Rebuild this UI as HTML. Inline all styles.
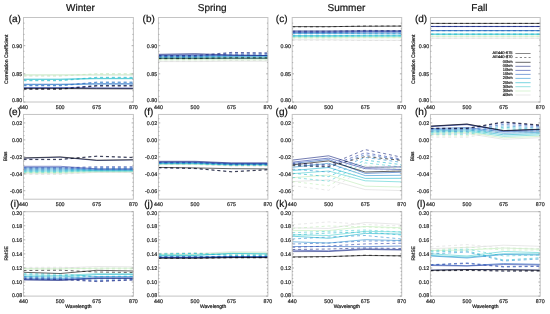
<!DOCTYPE html>
<html><head><meta charset="utf-8"><style>
html,body{margin:0;padding:0;background:#fff;}
body{width:550px;height:314px;overflow:hidden;font-family:"Liberation Sans",sans-serif;}
svg{display:block;will-change:transform;text-rendering:geometricPrecision;filter:blur(0.35px);}
</style></head><body>
<svg width="550" height="314" viewBox="0 0 550 314">
<rect width="550" height="314" fill="#fff"/>
<g fill="none" stroke-width="0.62" stroke-linejoin="round">
<polyline points="23.5,75.1 60.13,75.1 96.77,75.1 133.4,75.1" stroke="#dadada"/>
<polyline points="23.5,76.1 60.13,76.1 96.77,74 133.4,74" stroke="#dadada" stroke-dasharray="3,2.9"/>
<polyline points="23.5,74.8 60.13,74.8 96.77,74.8 133.4,74.8" stroke="#c0ecb8"/>
<polyline points="23.5,75.8 60.13,75.8 96.77,73.7 133.4,73.7" stroke="#c0ecb8" stroke-dasharray="3,2.9"/>
<polyline points="23.5,79.5 60.13,79.5 96.77,78.8 133.4,78.8" stroke="#50d0d0"/>
<polyline points="23.5,80.8 60.13,80.8 96.77,77.7 133.4,77.7" stroke="#50d0d0" stroke-dasharray="3,2.9"/>
<polyline points="23.5,79.1 60.13,79.1 96.77,78.4 133.4,78.4" stroke="#20b8cc"/>
<polyline points="23.5,80.4 60.13,80.4 96.77,77.3 133.4,77.3" stroke="#20b8cc" stroke-dasharray="3,2.9"/>
<polyline points="23.5,84.6 60.13,84.6 96.77,84.1 133.4,84.1" stroke="#2a90d0"/>
<polyline points="23.5,85.9 60.13,85.9 96.77,82.4 133.4,82.4" stroke="#2a90d0" stroke-dasharray="3,2.9"/>
<polyline points="23.5,84.2 60.13,84.2 96.77,83.7 133.4,83.7" stroke="#2a64c0"/>
<polyline points="23.5,85.5 60.13,85.5 96.77,82.1 133.4,82.1" stroke="#2a64c0" stroke-dasharray="3,2.9"/>
<polyline points="23.5,87.6 60.13,87.6 96.77,87.9 133.4,88" stroke="#2840a8"/>
<polyline points="23.5,88.5 60.13,88.5 96.77,85.4 133.4,85.4" stroke="#2840a8" stroke-dasharray="3,2.9"/>
<polyline points="23.5,88 60.13,88 96.77,88.3 133.4,88.5" stroke="#1c2a80"/>
<polyline points="23.5,88.9 60.13,88.9 96.77,85.7 133.4,85.7" stroke="#1c2a80" stroke-dasharray="3,2.9"/>
<polyline points="23.5,88.6 60.13,88.6 96.77,88.8 133.4,88.9" stroke="#000000"/>
<polyline points="23.5,89.3 60.13,89.3 96.77,86 133.4,86" stroke="#000000" stroke-dasharray="3,2.9"/>
</g>
<rect x="23.5" y="17.5" width="109.9" height="84.5" fill="none" stroke="#c4c4c4" stroke-width="1"/>
<path d="M23.5 102h1.8M133.4 102h-1.8M23.5 73.83h1.8M133.4 73.83h-1.8M23.5 45.67h1.8M133.4 45.67h-1.8M23.5 96.37h1M133.4 96.37h-1M23.5 90.73h1M133.4 90.73h-1M23.5 85.1h1M133.4 85.1h-1M23.5 79.47h1M133.4 79.47h-1M23.5 68.2h1M133.4 68.2h-1M23.5 62.57h1M133.4 62.57h-1M23.5 56.93h1M133.4 56.93h-1M23.5 51.3h1M133.4 51.3h-1M23.5 40.03h1M133.4 40.03h-1M23.5 34.4h1M133.4 34.4h-1M23.5 28.77h1M133.4 28.77h-1M23.5 23.13h1M133.4 23.13h-1" stroke="#999" stroke-width="0.8" fill="none"/>
<g font-family='"Liberation Sans", sans-serif' font-size="5.3" fill="#222" stroke="#222" stroke-width="0.18">
<text x="22.2" y="102.4" text-anchor="end">0.80</text>
<text x="22.2" y="75.73" text-anchor="end">0.85</text>
<text x="22.2" y="47.57" text-anchor="end">0.90</text>
<text x="23.5" y="108.9" text-anchor="middle">440</text>
<text x="60.13" y="108.9" text-anchor="middle">500</text>
<text x="96.77" y="108.9" text-anchor="middle">675</text>
<text x="133.4" y="108.9" text-anchor="middle">870</text>
</g>
<text x="14.8" y="21.6" font-family='"Liberation Sans", sans-serif' font-size="10" fill="#111" stroke="#111" stroke-width="0.2" text-anchor="middle">(a)</text>
<text transform="translate(8.3,59.25) rotate(-90)" font-family='"Liberation Sans", sans-serif' font-size="5" fill="#222" stroke="#222" stroke-width="0.22" text-anchor="middle">Correlation Coefficient</text>
<text x="80.5" y="11.3" font-family='"Liberation Sans", sans-serif' font-size="10" fill="#111" stroke="#111" stroke-width="0.2" text-anchor="middle">Winter</text>
<g fill="none" stroke-width="0.62" stroke-linejoin="round">
<polyline points="158.45,61.6 194.93,61.6 231.42,61.3 267.9,61.3" stroke="#dadada"/>
<polyline points="158.45,61.2 194.93,61.2 231.42,60.5 267.9,60.5" stroke="#dadada" stroke-dasharray="3,2.9"/>
<polyline points="158.45,59.8 194.93,59.8 231.42,59.8 267.9,59.8" stroke="#c0ecb8"/>
<polyline points="158.45,59.6 194.93,59.6 231.42,58.75 267.9,58.75" stroke="#c0ecb8" stroke-dasharray="3,2.9"/>
<polyline points="158.45,58.45 194.93,58.45 231.42,58.45 267.9,58.45" stroke="#50d0d0"/>
<polyline points="158.45,58 194.93,58 231.42,57 267.9,57" stroke="#50d0d0" stroke-dasharray="3,2.9"/>
<polyline points="158.45,57.1 194.93,57.1 231.42,57.1 267.9,57.1" stroke="#20b8cc"/>
<polyline points="158.45,57.5 194.93,57.5 231.42,56 267.9,56" stroke="#20b8cc" stroke-dasharray="3,2.9"/>
<polyline points="158.45,56.3 194.93,56.3 231.42,56.3 267.9,56.3" stroke="#2a90d0"/>
<polyline points="158.45,57 194.93,57 231.42,55 267.9,55" stroke="#2a90d0" stroke-dasharray="3,2.9"/>
<polyline points="158.45,55.5 194.93,55.5 231.42,55.5 267.9,55.5" stroke="#2a64c0"/>
<polyline points="158.45,56.5 194.93,56.5 231.42,54 267.9,54.15" stroke="#2a64c0" stroke-dasharray="3,2.9"/>
<polyline points="158.45,54.9 194.93,54.55 231.42,55.25 267.9,55.5" stroke="#2840a8"/>
<polyline points="158.45,56 194.93,56 231.42,53 267.9,53.3" stroke="#2840a8" stroke-dasharray="3,2.9"/>
<polyline points="158.45,54.3 194.93,53.6 231.42,55 267.9,55.5" stroke="#1c2a80"/>
<polyline points="158.45,55.5 194.93,55.5 231.42,52.4 267.9,52.9" stroke="#1c2a80" stroke-dasharray="3,2.9"/>
<polyline points="158.45,58.2 194.93,58.2 231.42,58.2 267.9,58.2" stroke="#000000"/>
<polyline points="158.45,58.6 194.93,58.6 231.42,57.8 267.9,57.8" stroke="#000000" stroke-dasharray="3,2.9"/>
</g>
<rect x="158.45" y="17.5" width="109.45" height="84.5" fill="none" stroke="#c4c4c4" stroke-width="1"/>
<path d="M158.45 102h1.8M267.9 102h-1.8M158.45 73.83h1.8M267.9 73.83h-1.8M158.45 45.67h1.8M267.9 45.67h-1.8M158.45 96.37h1M267.9 96.37h-1M158.45 90.73h1M267.9 90.73h-1M158.45 85.1h1M267.9 85.1h-1M158.45 79.47h1M267.9 79.47h-1M158.45 68.2h1M267.9 68.2h-1M158.45 62.57h1M267.9 62.57h-1M158.45 56.93h1M267.9 56.93h-1M158.45 51.3h1M267.9 51.3h-1M158.45 40.03h1M267.9 40.03h-1M158.45 34.4h1M267.9 34.4h-1M158.45 28.77h1M267.9 28.77h-1M158.45 23.13h1M267.9 23.13h-1" stroke="#999" stroke-width="0.8" fill="none"/>
<g font-family='"Liberation Sans", sans-serif' font-size="5.3" fill="#222" stroke="#222" stroke-width="0.18">
<text x="157.15" y="102.4" text-anchor="end">0.80</text>
<text x="157.15" y="75.73" text-anchor="end">0.85</text>
<text x="157.15" y="47.57" text-anchor="end">0.90</text>
<text x="158.45" y="108.9" text-anchor="middle">440</text>
<text x="194.93" y="108.9" text-anchor="middle">500</text>
<text x="231.42" y="108.9" text-anchor="middle">675</text>
<text x="267.9" y="108.9" text-anchor="middle">870</text>
</g>
<text x="148.7" y="21.6" font-family='"Liberation Sans", sans-serif' font-size="10" fill="#111" stroke="#111" stroke-width="0.2" text-anchor="middle">(b)</text>
<text x="212.2" y="11.3" font-family='"Liberation Sans", sans-serif' font-size="10" fill="#111" stroke="#111" stroke-width="0.2" text-anchor="middle">Spring</text>
<g fill="none" stroke-width="0.62" stroke-linejoin="round">
<polyline points="292.2,39.8 328.7,39.8 365.2,40.2 401.7,40.3" stroke="#dadada"/>
<polyline points="292.2,40.2 328.7,40.2 365.2,40.5 401.7,40.5" stroke="#dadada" stroke-dasharray="3,2.9"/>
<polyline points="292.2,37.7 328.7,37.7 365.2,37.7 401.7,37.7" stroke="#c0ecb8"/>
<polyline points="292.2,38 328.7,38 365.2,37.7 401.7,37.7" stroke="#c0ecb8" stroke-dasharray="3,2.9"/>
<polyline points="292.2,36.5 328.7,36.5 365.2,36.4 401.7,36.4" stroke="#50d0d0"/>
<polyline points="292.2,36.8 328.7,36.8 365.2,36.2 401.7,36.2" stroke="#50d0d0" stroke-dasharray="3,2.9"/>
<polyline points="292.2,35.5 328.7,35.5 365.2,35.4 401.7,35.4" stroke="#20b8cc"/>
<polyline points="292.2,35.8 328.7,35.8 365.2,35.2 401.7,35.2" stroke="#20b8cc" stroke-dasharray="3,2.9"/>
<polyline points="292.2,33.5 328.7,33.5 365.2,33.6 401.7,33.8" stroke="#2a90d0"/>
<polyline points="292.2,33.8 328.7,33.8 365.2,33.3 401.7,33.5" stroke="#2a90d0" stroke-dasharray="3,2.9"/>
<polyline points="292.2,32.4 328.7,32.4 365.2,32.2 401.7,32.2" stroke="#2a64c0"/>
<polyline points="292.2,32.7 328.7,32.7 365.2,31.9 401.7,31.9" stroke="#2a64c0" stroke-dasharray="3,2.9"/>
<polyline points="292.2,31.8 328.7,31.8 365.2,31.6 401.7,31.6" stroke="#2840a8"/>
<polyline points="292.2,32 328.7,32 365.2,31.3 401.7,31.4" stroke="#2840a8" stroke-dasharray="3,2.9"/>
<polyline points="292.2,30.9 328.7,30.9 365.2,30.7 401.7,30.7" stroke="#1c2a80"/>
<polyline points="292.2,31.2 328.7,31.2 365.2,30.4 401.7,30.6" stroke="#1c2a80" stroke-dasharray="3,2.9"/>
<polyline points="292.2,26.6 328.7,26.6 365.2,26.3 401.7,26.1" stroke="#000000"/>
<polyline points="292.2,26.8 328.7,26.8 365.2,26 401.7,26" stroke="#000000" stroke-dasharray="3,2.9"/>
</g>
<rect x="292.2" y="17.5" width="109.5" height="84.5" fill="none" stroke="#c4c4c4" stroke-width="1"/>
<path d="M292.2 102h1.8M401.7 102h-1.8M292.2 73.83h1.8M401.7 73.83h-1.8M292.2 45.67h1.8M401.7 45.67h-1.8M292.2 96.37h1M401.7 96.37h-1M292.2 90.73h1M401.7 90.73h-1M292.2 85.1h1M401.7 85.1h-1M292.2 79.47h1M401.7 79.47h-1M292.2 68.2h1M401.7 68.2h-1M292.2 62.57h1M401.7 62.57h-1M292.2 56.93h1M401.7 56.93h-1M292.2 51.3h1M401.7 51.3h-1M292.2 40.03h1M401.7 40.03h-1M292.2 34.4h1M401.7 34.4h-1M292.2 28.77h1M401.7 28.77h-1M292.2 23.13h1M401.7 23.13h-1" stroke="#999" stroke-width="0.8" fill="none"/>
<g font-family='"Liberation Sans", sans-serif' font-size="5.3" fill="#222" stroke="#222" stroke-width="0.18">
<text x="290.9" y="102.4" text-anchor="end">0.80</text>
<text x="290.9" y="75.73" text-anchor="end">0.85</text>
<text x="290.9" y="47.57" text-anchor="end">0.90</text>
<text x="292.2" y="108.9" text-anchor="middle">440</text>
<text x="328.7" y="108.9" text-anchor="middle">500</text>
<text x="365.2" y="108.9" text-anchor="middle">675</text>
<text x="401.7" y="108.9" text-anchor="middle">870</text>
</g>
<text x="281.7" y="21.6" font-family='"Liberation Sans", sans-serif' font-size="10" fill="#111" stroke="#111" stroke-width="0.2" text-anchor="middle">(c)</text>
<text x="346.4" y="11.3" font-family='"Liberation Sans", sans-serif' font-size="10" fill="#111" stroke="#111" stroke-width="0.2" text-anchor="middle">Summer</text>
<g fill="none" stroke-width="0.62" stroke-linejoin="round">
<polyline points="430.45,38.2 467.03,38.2 503.62,38.2 540.2,38.2" stroke="#dadada"/>
<polyline points="430.45,38.2 467.03,38.2 503.62,38.2 540.2,38.2" stroke="#dadada" stroke-dasharray="3,2.9"/>
<polyline points="430.45,36.2 467.03,36.2 503.62,36.2 540.2,36.2" stroke="#c0ecb8"/>
<polyline points="430.45,36.2 467.03,36.2 503.62,36.2 540.2,36.2" stroke="#c0ecb8" stroke-dasharray="3,2.9"/>
<polyline points="430.45,34.3 467.03,34.3 503.62,34.3 540.2,34.3" stroke="#50d0d0"/>
<polyline points="430.45,34.3 467.03,34.3 503.62,34.3 540.2,34.3" stroke="#50d0d0" stroke-dasharray="3,2.9"/>
<polyline points="430.45,34.1 467.03,34.1 503.62,34.1 540.2,34.1" stroke="#20b8cc"/>
<polyline points="430.45,34.1 467.03,34.1 503.62,34.1 540.2,34.1" stroke="#20b8cc" stroke-dasharray="3,2.9"/>
<polyline points="430.45,30.7 467.03,30.7 503.62,30.7 540.2,30.7" stroke="#2a90d0"/>
<polyline points="430.45,30.7 467.03,30.7 503.62,30.7 540.2,30.7" stroke="#2a90d0" stroke-dasharray="3,2.9"/>
<polyline points="430.45,30.6 467.03,30.6 503.62,30.6 540.2,30.6" stroke="#2a64c0"/>
<polyline points="430.45,30.6 467.03,30.6 503.62,30.6 540.2,30.6" stroke="#2a64c0" stroke-dasharray="3,2.9"/>
<polyline points="430.45,26.55 467.03,26.55 503.62,26.55 540.2,26.55" stroke="#2840a8"/>
<polyline points="430.45,26.55 467.03,26.55 503.62,26.55 540.2,26.55" stroke="#2840a8" stroke-dasharray="3,2.9"/>
<polyline points="430.45,26.45 467.03,26.45 503.62,26.45 540.2,26.45" stroke="#1c2a80"/>
<polyline points="430.45,26.45 467.03,26.45 503.62,26.45 540.2,26.45" stroke="#1c2a80" stroke-dasharray="3,2.9"/>
<polyline points="430.45,23.4 467.03,23.4 503.62,23.4 540.2,23.4" stroke="#000000"/>
<polyline points="430.45,23.4 467.03,23.4 503.62,23.4 540.2,23.4" stroke="#000000" stroke-dasharray="3,2.9"/>
</g>
<rect x="430.45" y="17.5" width="109.75" height="84.5" fill="none" stroke="#c4c4c4" stroke-width="1"/>
<path d="M430.45 102h1.8M540.2 102h-1.8M430.45 73.83h1.8M540.2 73.83h-1.8M430.45 45.67h1.8M540.2 45.67h-1.8M430.45 96.37h1M540.2 96.37h-1M430.45 90.73h1M540.2 90.73h-1M430.45 85.1h1M540.2 85.1h-1M430.45 79.47h1M540.2 79.47h-1M430.45 68.2h1M540.2 68.2h-1M430.45 62.57h1M540.2 62.57h-1M430.45 56.93h1M540.2 56.93h-1M430.45 51.3h1M540.2 51.3h-1M430.45 40.03h1M540.2 40.03h-1M430.45 34.4h1M540.2 34.4h-1M430.45 28.77h1M540.2 28.77h-1M430.45 23.13h1M540.2 23.13h-1" stroke="#999" stroke-width="0.8" fill="none"/>
<g font-family='"Liberation Sans", sans-serif' font-size="5.3" fill="#222" stroke="#222" stroke-width="0.18">
<text x="429.15" y="102.4" text-anchor="end">0.80</text>
<text x="429.15" y="75.73" text-anchor="end">0.85</text>
<text x="429.15" y="47.57" text-anchor="end">0.90</text>
<text x="430.45" y="108.9" text-anchor="middle">440</text>
<text x="467.03" y="108.9" text-anchor="middle">500</text>
<text x="503.62" y="108.9" text-anchor="middle">675</text>
<text x="540.2" y="108.9" text-anchor="middle">870</text>
</g>
<text x="421.1" y="21.6" font-family='"Liberation Sans", sans-serif' font-size="10" fill="#111" stroke="#111" stroke-width="0.2" text-anchor="middle">(d)</text>
<text transform="translate(415.25,59.25) rotate(-90)" font-family='"Liberation Sans", sans-serif' font-size="5" fill="#222" stroke="#222" stroke-width="0.22" text-anchor="middle">Correlation Coefficient</text>
<text x="479.4" y="11.3" font-family='"Liberation Sans", sans-serif' font-size="10" fill="#111" stroke="#111" stroke-width="0.2" text-anchor="middle">Fall</text>
<g fill="none" stroke-width="0.62" stroke-linejoin="round">
<polyline points="23.5,173.7 60.13,173.7 96.77,172.4 133.4,172.4" stroke="#dadada"/>
<polyline points="23.5,174.5 60.13,174.5 96.77,172 133.4,172" stroke="#dadada" stroke-dasharray="3,2.9"/>
<polyline points="23.5,172.47 60.13,172.47 96.77,171.8 133.4,171.8" stroke="#c0ecb8"/>
<polyline points="23.5,173.4 60.13,173.4 96.77,171.12 133.4,171.12" stroke="#c0ecb8" stroke-dasharray="3,2.9"/>
<polyline points="23.5,171.23 60.13,171.23 96.77,171.2 133.4,171.2" stroke="#50d0d0"/>
<polyline points="23.5,172.3 60.13,172.3 96.77,170.23 133.4,170.23" stroke="#50d0d0" stroke-dasharray="3,2.9"/>
<polyline points="23.5,170 60.13,170 96.77,170.6 133.4,170.6" stroke="#20b8cc"/>
<polyline points="23.5,171.2 60.13,171.2 96.77,169.35 133.4,169.35" stroke="#20b8cc" stroke-dasharray="3,2.9"/>
<polyline points="23.5,168.77 60.13,168.77 96.77,170 133.4,170" stroke="#2a90d0"/>
<polyline points="23.5,170.1 60.13,170.1 96.77,168.47 133.4,168.47" stroke="#2a90d0" stroke-dasharray="3,2.9"/>
<polyline points="23.5,167.53 60.13,167.53 96.77,169.4 133.4,169.4" stroke="#2a64c0"/>
<polyline points="23.5,169 60.13,169 96.77,167.58 133.4,167.58" stroke="#2a64c0" stroke-dasharray="3,2.9"/>
<polyline points="23.5,166.3 60.13,166.3 96.77,168.8 133.4,168.8" stroke="#2840a8"/>
<polyline points="23.5,167.9 60.13,167.9 96.77,166.7 133.4,166.7" stroke="#2840a8" stroke-dasharray="3,2.9"/>
<polyline points="23.5,158.2 60.13,157.2 96.77,160.5 133.4,160" stroke="#1c2a80"/>
<polyline points="23.5,159.6 60.13,159.6 96.77,156.4 133.4,157.7" stroke="#1c2a80" stroke-dasharray="3,2.9"/>
<polyline points="23.5,157.9 60.13,156.9 96.77,160.2 133.4,159.7" stroke="#000000"/>
<polyline points="23.5,159.3 60.13,159.3 96.77,156.1 133.4,157.4" stroke="#000000" stroke-dasharray="3,2.9"/>
</g>
<rect x="23.5" y="114.45" width="109.9" height="84.75" fill="none" stroke="#c4c4c4" stroke-width="1"/>
<path d="M23.5 190.72h1.8M133.4 190.72h-1.8M23.5 173.77h1.8M133.4 173.77h-1.8M23.5 156.82h1.8M133.4 156.82h-1.8M23.5 139.88h1.8M133.4 139.88h-1.8M23.5 122.92h1.8M133.4 122.92h-1.8M23.5 194.96h1M133.4 194.96h-1M23.5 186.49h1M133.4 186.49h-1M23.5 182.25h1M133.4 182.25h-1M23.5 178.01h1M133.4 178.01h-1M23.5 169.54h1M133.4 169.54h-1M23.5 165.3h1M133.4 165.3h-1M23.5 161.06h1M133.4 161.06h-1M23.5 152.59h1M133.4 152.59h-1M23.5 148.35h1M133.4 148.35h-1M23.5 144.11h1M133.4 144.11h-1M23.5 135.64h1M133.4 135.64h-1M23.5 131.4h1M133.4 131.4h-1M23.5 127.16h1M133.4 127.16h-1M23.5 118.69h1M133.4 118.69h-1" stroke="#999" stroke-width="0.8" fill="none"/>
<g font-family='"Liberation Sans", sans-serif' font-size="5.3" fill="#222" stroke="#222" stroke-width="0.18">
<text x="22.2" y="192.62" text-anchor="end">-0.06</text>
<text x="22.2" y="175.67" text-anchor="end">-0.04</text>
<text x="22.2" y="158.72" text-anchor="end">-0.02</text>
<text x="22.2" y="141.78" text-anchor="end">0.00</text>
<text x="22.2" y="124.83" text-anchor="end">0.02</text>
<text x="23.5" y="206.1" text-anchor="middle">440</text>
<text x="60.13" y="206.1" text-anchor="middle">500</text>
<text x="96.77" y="206.1" text-anchor="middle">675</text>
<text x="133.4" y="206.1" text-anchor="middle">870</text>
</g>
<text x="14.8" y="114.5" font-family='"Liberation Sans", sans-serif' font-size="10" fill="#111" stroke="#111" stroke-width="0.2" text-anchor="middle">(e)</text>
<text transform="translate(6.6,156.32) rotate(-90)" font-family='"Liberation Sans", sans-serif' font-size="5" fill="#222" stroke="#222" stroke-width="0.22" text-anchor="middle">Bias</text>
<g fill="none" stroke-width="0.62" stroke-linejoin="round">
<polyline points="158.45,164.4 194.93,164.4 231.42,165.4 267.9,165.4" stroke="#dadada"/>
<polyline points="158.45,164.6 194.93,164.6 231.42,166 267.9,166" stroke="#dadada" stroke-dasharray="3,2.9"/>
<polyline points="158.45,164.05 194.93,164.05 231.42,165.05 267.9,165.05" stroke="#c0ecb8"/>
<polyline points="158.45,164.25 194.93,164.25 231.42,165.65 267.9,165.65" stroke="#c0ecb8" stroke-dasharray="3,2.9"/>
<polyline points="158.45,163.7 194.93,163.7 231.42,164.7 267.9,164.7" stroke="#50d0d0"/>
<polyline points="158.45,163.9 194.93,163.9 231.42,165.3 267.9,165.3" stroke="#50d0d0" stroke-dasharray="3,2.9"/>
<polyline points="158.45,163.3 194.93,163.3 231.42,164.4 267.9,164.4" stroke="#20b8cc"/>
<polyline points="158.45,163.5 194.93,163.5 231.42,165 267.9,165" stroke="#20b8cc" stroke-dasharray="3,2.9"/>
<polyline points="158.45,162.83 194.93,162.83 231.42,164.03 267.9,164.03" stroke="#2a90d0"/>
<polyline points="158.45,163.13 194.93,163.13 231.42,164.67 267.9,164.67" stroke="#2a90d0" stroke-dasharray="3,2.9"/>
<polyline points="158.45,162.37 194.93,162.37 231.42,163.67 267.9,163.67" stroke="#2a64c0"/>
<polyline points="158.45,162.77 194.93,162.77 231.42,164.33 267.9,164.33" stroke="#2a64c0" stroke-dasharray="3,2.9"/>
<polyline points="158.45,161.9 194.93,161.9 231.42,163.3 267.9,163.3" stroke="#2840a8"/>
<polyline points="158.45,162.4 194.93,162.4 231.42,164 267.9,164" stroke="#2840a8" stroke-dasharray="3,2.9"/>
<polyline points="158.45,161.3 194.93,161.3 231.42,162.9 267.9,162.9" stroke="#1c2a80"/>
<polyline points="158.45,167.9 194.93,168.6 231.42,171.6 267.9,169.6" stroke="#1c2a80" stroke-dasharray="3,2.9"/>
<polyline points="158.45,167.4 194.93,167.9 231.42,168.7 267.9,168.9" stroke="#000000"/>
<polyline points="158.45,167.6 194.93,168.3 231.42,171.9 267.9,169.8" stroke="#000000" stroke-dasharray="3,2.9"/>
</g>
<rect x="158.45" y="114.45" width="109.45" height="84.75" fill="none" stroke="#c4c4c4" stroke-width="1"/>
<path d="M158.45 190.72h1.8M267.9 190.72h-1.8M158.45 173.77h1.8M267.9 173.77h-1.8M158.45 156.82h1.8M267.9 156.82h-1.8M158.45 139.88h1.8M267.9 139.88h-1.8M158.45 122.92h1.8M267.9 122.92h-1.8M158.45 194.96h1M267.9 194.96h-1M158.45 186.49h1M267.9 186.49h-1M158.45 182.25h1M267.9 182.25h-1M158.45 178.01h1M267.9 178.01h-1M158.45 169.54h1M267.9 169.54h-1M158.45 165.3h1M267.9 165.3h-1M158.45 161.06h1M267.9 161.06h-1M158.45 152.59h1M267.9 152.59h-1M158.45 148.35h1M267.9 148.35h-1M158.45 144.11h1M267.9 144.11h-1M158.45 135.64h1M267.9 135.64h-1M158.45 131.4h1M267.9 131.4h-1M158.45 127.16h1M267.9 127.16h-1M158.45 118.69h1M267.9 118.69h-1" stroke="#999" stroke-width="0.8" fill="none"/>
<g font-family='"Liberation Sans", sans-serif' font-size="5.3" fill="#222" stroke="#222" stroke-width="0.18">
<text x="157.15" y="192.62" text-anchor="end">-0.06</text>
<text x="157.15" y="175.67" text-anchor="end">-0.04</text>
<text x="157.15" y="158.72" text-anchor="end">-0.02</text>
<text x="157.15" y="141.78" text-anchor="end">0.00</text>
<text x="157.15" y="124.83" text-anchor="end">0.02</text>
<text x="158.45" y="206.1" text-anchor="middle">440</text>
<text x="194.93" y="206.1" text-anchor="middle">500</text>
<text x="231.42" y="206.1" text-anchor="middle">675</text>
<text x="267.9" y="206.1" text-anchor="middle">870</text>
</g>
<text x="148.7" y="114.5" font-family='"Liberation Sans", sans-serif' font-size="10" fill="#111" stroke="#111" stroke-width="0.2" text-anchor="middle">(f)</text>
<g fill="none" stroke-width="0.62" stroke-linejoin="round">
<polyline points="292.2,181.6 328.7,179.8 365.2,189.6 401.7,190.6" stroke="#dadada"/>
<polyline points="292.2,185.6 328.7,190.3 365.2,168.3 401.7,171.8" stroke="#dadada" stroke-dasharray="3,2.9"/>
<polyline points="292.2,177.7 328.7,175 365.2,186.2 401.7,187" stroke="#c0ecb8"/>
<polyline points="292.2,181.48 328.7,185.74 365.2,165.58 401.7,169.44" stroke="#c0ecb8" stroke-dasharray="3,2.9"/>
<polyline points="292.2,173.7 328.7,171 365.2,180.8 401.7,181.9" stroke="#50d0d0"/>
<polyline points="292.2,177.36 328.7,181.18 365.2,162.86 401.7,167.08" stroke="#50d0d0" stroke-dasharray="3,2.9"/>
<polyline points="292.2,170.5 328.7,167.5 365.2,178.4 401.7,178.3" stroke="#20b8cc"/>
<polyline points="292.2,173.24 328.7,176.62 365.2,160.14 401.7,164.72" stroke="#20b8cc" stroke-dasharray="3,2.9"/>
<polyline points="292.2,167.3 328.7,163.3 365.2,175.6 401.7,175.3" stroke="#2a90d0"/>
<polyline points="292.2,169.12 328.7,172.06 365.2,157.42 401.7,162.36" stroke="#2a90d0" stroke-dasharray="3,2.9"/>
<polyline points="292.2,163.5 328.7,159.5 365.2,173.4 401.7,172.2" stroke="#2a64c0"/>
<polyline points="292.2,165 328.7,167.5 365.2,154.7 401.7,160" stroke="#2a64c0" stroke-dasharray="3,2.9"/>
<polyline points="292.2,162.2 328.7,158.1 365.2,168.7 401.7,169.5" stroke="#2840a8"/>
<polyline points="292.2,164 328.7,166 365.2,152.8 401.7,159.1" stroke="#2840a8" stroke-dasharray="3,2.9"/>
<polyline points="292.2,160.1 328.7,155.8 365.2,167.3 401.7,166.9" stroke="#1c2a80"/>
<polyline points="292.2,163 328.7,164.7 365.2,149.6 401.7,157.2" stroke="#1c2a80" stroke-dasharray="3,2.9"/>
<polyline points="292.2,164.9 328.7,160.9 365.2,172 401.7,171" stroke="#000000"/>
<polyline points="292.2,165.7 328.7,166.5 365.2,156.6 401.7,160.4" stroke="#000000" stroke-dasharray="3,2.9"/>
</g>
<rect x="292.2" y="114.45" width="109.5" height="84.75" fill="none" stroke="#c4c4c4" stroke-width="1"/>
<path d="M292.2 190.72h1.8M401.7 190.72h-1.8M292.2 173.77h1.8M401.7 173.77h-1.8M292.2 156.82h1.8M401.7 156.82h-1.8M292.2 139.88h1.8M401.7 139.88h-1.8M292.2 122.92h1.8M401.7 122.92h-1.8M292.2 194.96h1M401.7 194.96h-1M292.2 186.49h1M401.7 186.49h-1M292.2 182.25h1M401.7 182.25h-1M292.2 178.01h1M401.7 178.01h-1M292.2 169.54h1M401.7 169.54h-1M292.2 165.3h1M401.7 165.3h-1M292.2 161.06h1M401.7 161.06h-1M292.2 152.59h1M401.7 152.59h-1M292.2 148.35h1M401.7 148.35h-1M292.2 144.11h1M401.7 144.11h-1M292.2 135.64h1M401.7 135.64h-1M292.2 131.4h1M401.7 131.4h-1M292.2 127.16h1M401.7 127.16h-1M292.2 118.69h1M401.7 118.69h-1" stroke="#999" stroke-width="0.8" fill="none"/>
<g font-family='"Liberation Sans", sans-serif' font-size="5.3" fill="#222" stroke="#222" stroke-width="0.18">
<text x="290.9" y="192.62" text-anchor="end">-0.06</text>
<text x="290.9" y="175.67" text-anchor="end">-0.04</text>
<text x="290.9" y="158.72" text-anchor="end">-0.02</text>
<text x="290.9" y="141.78" text-anchor="end">0.00</text>
<text x="290.9" y="124.83" text-anchor="end">0.02</text>
<text x="292.2" y="206.1" text-anchor="middle">440</text>
<text x="328.7" y="206.1" text-anchor="middle">500</text>
<text x="365.2" y="206.1" text-anchor="middle">675</text>
<text x="401.7" y="206.1" text-anchor="middle">870</text>
</g>
<text x="281.7" y="114.5" font-family='"Liberation Sans", sans-serif' font-size="10" fill="#111" stroke="#111" stroke-width="0.2" text-anchor="middle">(g)</text>
<g fill="none" stroke-width="0.62" stroke-linejoin="round">
<polyline points="430.45,134.5 467.03,133.5 503.62,139.3 540.2,137.7" stroke="#dadada"/>
<polyline points="430.45,137.2 467.03,137.2 503.62,131.5 540.2,133.5" stroke="#dadada" stroke-dasharray="3,2.9"/>
<polyline points="430.45,133.32 467.03,132.3 503.62,137.8 540.2,136.36" stroke="#c0ecb8"/>
<polyline points="430.45,135.76 467.03,135.76 503.62,130.08 540.2,132.16" stroke="#c0ecb8" stroke-dasharray="3,2.9"/>
<polyline points="430.45,132.14 467.03,131.1 503.62,136.3 540.2,135.02" stroke="#50d0d0"/>
<polyline points="430.45,134.32 467.03,134.32 503.62,128.66 540.2,130.82" stroke="#50d0d0" stroke-dasharray="3,2.9"/>
<polyline points="430.45,130.96 467.03,129.9 503.62,134.8 540.2,133.68" stroke="#20b8cc"/>
<polyline points="430.45,132.88 467.03,132.88 503.62,127.24 540.2,129.48" stroke="#20b8cc" stroke-dasharray="3,2.9"/>
<polyline points="430.45,129.78 467.03,128.7 503.62,133.3 540.2,132.34" stroke="#2a90d0"/>
<polyline points="430.45,131.44 467.03,131.44 503.62,125.82 540.2,128.14" stroke="#2a90d0" stroke-dasharray="3,2.9"/>
<polyline points="430.45,128.6 467.03,127.5 503.62,131.8 540.2,131" stroke="#2a64c0"/>
<polyline points="430.45,130 467.03,130 503.62,124.4 540.2,126.8" stroke="#2a64c0" stroke-dasharray="3,2.9"/>
<polyline points="430.45,126.6 467.03,124.6 503.62,131 540.2,129.7" stroke="#2840a8"/>
<polyline points="430.45,128.9 467.03,128.9 503.62,122.8 540.2,125.8" stroke="#2840a8" stroke-dasharray="3,2.9"/>
<polyline points="430.45,126.3 467.03,124.2 503.62,130.8 540.2,129.4" stroke="#1c2a80"/>
<polyline points="430.45,128.5 467.03,128.5 503.62,122.2 540.2,125.3" stroke="#1c2a80" stroke-dasharray="3,2.9"/>
<polyline points="430.45,126.1 467.03,124 503.62,130.6 540.2,129.2" stroke="#000000"/>
<polyline points="430.45,128.2 467.03,128.2 503.62,121.9 540.2,125" stroke="#000000" stroke-dasharray="3,2.9"/>
</g>
<rect x="430.45" y="114.45" width="109.75" height="84.75" fill="none" stroke="#c4c4c4" stroke-width="1"/>
<path d="M430.45 190.72h1.8M540.2 190.72h-1.8M430.45 173.77h1.8M540.2 173.77h-1.8M430.45 156.82h1.8M540.2 156.82h-1.8M430.45 139.88h1.8M540.2 139.88h-1.8M430.45 122.92h1.8M540.2 122.92h-1.8M430.45 194.96h1M540.2 194.96h-1M430.45 186.49h1M540.2 186.49h-1M430.45 182.25h1M540.2 182.25h-1M430.45 178.01h1M540.2 178.01h-1M430.45 169.54h1M540.2 169.54h-1M430.45 165.3h1M540.2 165.3h-1M430.45 161.06h1M540.2 161.06h-1M430.45 152.59h1M540.2 152.59h-1M430.45 148.35h1M540.2 148.35h-1M430.45 144.11h1M540.2 144.11h-1M430.45 135.64h1M540.2 135.64h-1M430.45 131.4h1M540.2 131.4h-1M430.45 127.16h1M540.2 127.16h-1M430.45 118.69h1M540.2 118.69h-1" stroke="#999" stroke-width="0.8" fill="none"/>
<g font-family='"Liberation Sans", sans-serif' font-size="5.3" fill="#222" stroke="#222" stroke-width="0.18">
<text x="429.15" y="192.62" text-anchor="end">-0.06</text>
<text x="429.15" y="175.67" text-anchor="end">-0.04</text>
<text x="429.15" y="158.72" text-anchor="end">-0.02</text>
<text x="429.15" y="141.78" text-anchor="end">0.00</text>
<text x="429.15" y="124.83" text-anchor="end">0.02</text>
<text x="430.45" y="206.1" text-anchor="middle">440</text>
<text x="467.03" y="206.1" text-anchor="middle">500</text>
<text x="503.62" y="206.1" text-anchor="middle">675</text>
<text x="540.2" y="206.1" text-anchor="middle">870</text>
</g>
<text x="421.1" y="114.5" font-family='"Liberation Sans", sans-serif' font-size="10" fill="#111" stroke="#111" stroke-width="0.2" text-anchor="middle">(h)</text>
<text transform="translate(413.55,156.32) rotate(-90)" font-family='"Liberation Sans", sans-serif' font-size="5" fill="#222" stroke="#222" stroke-width="0.22" text-anchor="middle">Bias</text>
<g fill="none" stroke-width="0.62" stroke-linejoin="round">
<polyline points="23.5,268.2 60.13,268 96.77,266.5 133.4,266.8" stroke="#dadada"/>
<polyline points="23.5,267.4 60.13,267.2 96.77,268 133.4,268" stroke="#dadada" stroke-dasharray="3,2.9"/>
<polyline points="23.5,269 60.13,269 96.77,268.2 133.4,268.2" stroke="#c0ecb8"/>
<polyline points="23.5,268.5 60.13,268.5 96.77,269 133.4,269" stroke="#c0ecb8" stroke-dasharray="3,2.9"/>
<polyline points="23.5,275 60.13,275.5 96.77,273.7 133.4,273.7" stroke="#50d0d0"/>
<polyline points="23.5,273.5 60.13,274 96.77,276.4 133.4,276" stroke="#50d0d0" stroke-dasharray="3,2.9"/>
<polyline points="23.5,276.5 60.13,277 96.77,274.5 133.4,274.5" stroke="#20b8cc"/>
<polyline points="23.5,274.8 60.13,275.3 96.77,277 133.4,276.5" stroke="#20b8cc" stroke-dasharray="3,2.9"/>
<polyline points="23.5,278 60.13,278.5 96.77,276.5 133.4,276.5" stroke="#2a90d0"/>
<polyline points="23.5,276.5 60.13,277 96.77,279 133.4,278.5" stroke="#2a90d0" stroke-dasharray="3,2.9"/>
<polyline points="23.5,279 60.13,279.5 96.77,277.9 133.4,277.9" stroke="#2a64c0"/>
<polyline points="23.5,277.4 60.13,278 96.77,280.5 133.4,279.5" stroke="#2a64c0" stroke-dasharray="3,2.9"/>
<polyline points="23.5,279.5 60.13,280 96.77,278 133.4,278" stroke="#2840a8"/>
<polyline points="23.5,278.5 60.13,279 96.77,281.2 133.4,279.8" stroke="#2840a8" stroke-dasharray="3,2.9"/>
<polyline points="23.5,280 60.13,280.5 96.77,278.5 133.4,278.5" stroke="#1c2a80"/>
<polyline points="23.5,279 60.13,279.5 96.77,281.6 133.4,280" stroke="#1c2a80" stroke-dasharray="3,2.9"/>
<polyline points="23.5,272.3 60.13,273.5 96.77,270.3 133.4,271" stroke="#000000"/>
<polyline points="23.5,270.5 60.13,270.2 96.77,272 133.4,272.5" stroke="#000000" stroke-dasharray="3,2.9"/>
</g>
<rect x="23.5" y="211.7" width="109.9" height="84.4" fill="none" stroke="#c4c4c4" stroke-width="1"/>
<path d="M23.5 296.1h1.8M133.4 296.1h-1.8M23.5 282.03h1.8M133.4 282.03h-1.8M23.5 267.97h1.8M133.4 267.97h-1.8M23.5 253.9h1.8M133.4 253.9h-1.8M23.5 239.83h1.8M133.4 239.83h-1.8M23.5 225.77h1.8M133.4 225.77h-1.8M23.5 211.7h1.8M133.4 211.7h-1.8M23.5 292.58h1M133.4 292.58h-1M23.5 289.07h1M133.4 289.07h-1M23.5 285.55h1M133.4 285.55h-1M23.5 278.52h1M133.4 278.52h-1M23.5 275h1M133.4 275h-1M23.5 271.48h1M133.4 271.48h-1M23.5 264.45h1M133.4 264.45h-1M23.5 260.93h1M133.4 260.93h-1M23.5 257.42h1M133.4 257.42h-1M23.5 250.38h1M133.4 250.38h-1M23.5 246.87h1M133.4 246.87h-1M23.5 243.35h1M133.4 243.35h-1M23.5 236.32h1M133.4 236.32h-1M23.5 232.8h1M133.4 232.8h-1M23.5 229.28h1M133.4 229.28h-1M23.5 222.25h1M133.4 222.25h-1M23.5 218.73h1M133.4 218.73h-1M23.5 215.22h1M133.4 215.22h-1" stroke="#999" stroke-width="0.8" fill="none"/>
<g font-family='"Liberation Sans", sans-serif' font-size="5.3" fill="#222" stroke="#222" stroke-width="0.18">
<text x="22.2" y="296.5" text-anchor="end">0.08</text>
<text x="22.2" y="283.93" text-anchor="end">0.10</text>
<text x="22.2" y="269.87" text-anchor="end">0.12</text>
<text x="22.2" y="255.8" text-anchor="end">0.14</text>
<text x="22.2" y="241.73" text-anchor="end">0.16</text>
<text x="22.2" y="227.67" text-anchor="end">0.18</text>
<text x="22.2" y="214.6" text-anchor="end">0.20</text>
<text x="23.5" y="303" text-anchor="middle">440</text>
<text x="60.13" y="303" text-anchor="middle">500</text>
<text x="96.77" y="303" text-anchor="middle">675</text>
<text x="133.4" y="303" text-anchor="middle">870</text>
</g>
<text x="14.8" y="206.5" font-family='"Liberation Sans", sans-serif' font-size="10" fill="#111" stroke="#111" stroke-width="0.2" text-anchor="middle">(i)</text>
<text transform="translate(8.3,253.4) rotate(-90)" font-family='"Liberation Sans", sans-serif' font-size="5" fill="#222" stroke="#222" stroke-width="0.22" text-anchor="middle">RMSE</text>
<text x="78.45" y="308.4" font-family='"Liberation Sans", sans-serif' font-size="5" fill="#222" stroke="#222" stroke-width="0.22" text-anchor="middle">Wavelength</text>
<g fill="none" stroke-width="0.62" stroke-linejoin="round">
<polyline points="158.45,253.8 194.93,253.8 231.42,251.7 267.9,252" stroke="#dadada"/>
<polyline points="158.45,253.2 194.93,252.7 231.42,254.2 267.9,254.2" stroke="#dadada" stroke-dasharray="3,2.9"/>
<polyline points="158.45,254.5 194.93,254.5 231.42,252.6 267.9,252.9" stroke="#c0ecb8"/>
<polyline points="158.45,253.5 194.93,253 231.42,254.6 267.9,254.6" stroke="#c0ecb8" stroke-dasharray="3,2.9"/>
<polyline points="158.45,255.2 194.93,255.2 231.42,253.4 267.9,253.8" stroke="#50d0d0"/>
<polyline points="158.45,254 194.93,253.3 231.42,255.2 267.9,255.2" stroke="#50d0d0" stroke-dasharray="3,2.9"/>
<polyline points="158.45,255.4 194.93,255.4 231.42,253.6 267.9,254" stroke="#20b8cc"/>
<polyline points="158.45,254.2 194.93,253.5 231.42,255.4 267.9,255.4" stroke="#20b8cc" stroke-dasharray="3,2.9"/>
<polyline points="158.45,256.9 194.93,256.9 231.42,256.5 267.9,256.5" stroke="#2a90d0"/>
<polyline points="158.45,256.4 194.93,256.4 231.42,256.4 267.9,256.4" stroke="#2a90d0" stroke-dasharray="3,2.9"/>
<polyline points="158.45,257.5 194.93,257.5 231.42,257 267.9,257" stroke="#2a64c0"/>
<polyline points="158.45,257.1 194.93,257.1 231.42,256.8 267.9,256.8" stroke="#2a64c0" stroke-dasharray="3,2.9"/>
<polyline points="158.45,257.6 194.93,257.6 231.42,257.1 267.9,257.1" stroke="#2840a8"/>
<polyline points="158.45,257.2 194.93,257.2 231.42,256.9 267.9,256.9" stroke="#2840a8" stroke-dasharray="3,2.9"/>
<polyline points="158.45,257.7 194.93,257.7 231.42,257.2 267.9,257.2" stroke="#1c2a80"/>
<polyline points="158.45,257.3 194.93,257.3 231.42,257 267.9,257" stroke="#1c2a80" stroke-dasharray="3,2.9"/>
<polyline points="158.45,258.3 194.93,258.3 231.42,257.6 267.9,257.6" stroke="#000000"/>
<polyline points="158.45,258.4 194.93,258.4 231.42,257.8 267.9,257.8" stroke="#000000" stroke-dasharray="3,2.9"/>
</g>
<rect x="158.45" y="211.7" width="109.45" height="84.4" fill="none" stroke="#c4c4c4" stroke-width="1"/>
<path d="M158.45 296.1h1.8M267.9 296.1h-1.8M158.45 282.03h1.8M267.9 282.03h-1.8M158.45 267.97h1.8M267.9 267.97h-1.8M158.45 253.9h1.8M267.9 253.9h-1.8M158.45 239.83h1.8M267.9 239.83h-1.8M158.45 225.77h1.8M267.9 225.77h-1.8M158.45 211.7h1.8M267.9 211.7h-1.8M158.45 292.58h1M267.9 292.58h-1M158.45 289.07h1M267.9 289.07h-1M158.45 285.55h1M267.9 285.55h-1M158.45 278.52h1M267.9 278.52h-1M158.45 275h1M267.9 275h-1M158.45 271.48h1M267.9 271.48h-1M158.45 264.45h1M267.9 264.45h-1M158.45 260.93h1M267.9 260.93h-1M158.45 257.42h1M267.9 257.42h-1M158.45 250.38h1M267.9 250.38h-1M158.45 246.87h1M267.9 246.87h-1M158.45 243.35h1M267.9 243.35h-1M158.45 236.32h1M267.9 236.32h-1M158.45 232.8h1M267.9 232.8h-1M158.45 229.28h1M267.9 229.28h-1M158.45 222.25h1M267.9 222.25h-1M158.45 218.73h1M267.9 218.73h-1M158.45 215.22h1M267.9 215.22h-1" stroke="#999" stroke-width="0.8" fill="none"/>
<g font-family='"Liberation Sans", sans-serif' font-size="5.3" fill="#222" stroke="#222" stroke-width="0.18">
<text x="157.15" y="296.5" text-anchor="end">0.08</text>
<text x="157.15" y="283.93" text-anchor="end">0.10</text>
<text x="157.15" y="269.87" text-anchor="end">0.12</text>
<text x="157.15" y="255.8" text-anchor="end">0.14</text>
<text x="157.15" y="241.73" text-anchor="end">0.16</text>
<text x="157.15" y="227.67" text-anchor="end">0.18</text>
<text x="157.15" y="214.6" text-anchor="end">0.20</text>
<text x="158.45" y="303" text-anchor="middle">440</text>
<text x="194.93" y="303" text-anchor="middle">500</text>
<text x="231.42" y="303" text-anchor="middle">675</text>
<text x="267.9" y="303" text-anchor="middle">870</text>
</g>
<text x="148.7" y="206.5" font-family='"Liberation Sans", sans-serif' font-size="10" fill="#111" stroke="#111" stroke-width="0.2" text-anchor="middle">(j)</text>
<text x="213.17" y="308.4" font-family='"Liberation Sans", sans-serif' font-size="5" fill="#222" stroke="#222" stroke-width="0.22" text-anchor="middle">Wavelength</text>
<g fill="none" stroke-width="0.62" stroke-linejoin="round">
<polyline points="292.2,227.8 328.7,228.5 365.2,222.5 401.7,224.3" stroke="#dadada"/>
<polyline points="292.2,224.7 328.7,221.9 365.2,224.5 401.7,226" stroke="#dadada" stroke-dasharray="3,2.9"/>
<polyline points="292.2,230.6 328.7,230.6 365.2,226.4 401.7,227.8" stroke="#c0ecb8"/>
<polyline points="292.2,228.5 328.7,226 365.2,227 401.7,228.5" stroke="#c0ecb8" stroke-dasharray="3,2.9"/>
<polyline points="292.2,234.8 328.7,235.5 365.2,231.3 401.7,232" stroke="#50d0d0"/>
<polyline points="292.2,232.7 328.7,231.3 365.2,230 401.7,232" stroke="#50d0d0" stroke-dasharray="3,2.9"/>
<polyline points="292.2,236.2 328.7,238.3 365.2,233.4 401.7,234.1" stroke="#20b8cc"/>
<polyline points="292.2,235 328.7,233 365.2,232 401.7,235" stroke="#20b8cc" stroke-dasharray="3,2.9"/>
<polyline points="292.2,241.8 328.7,243 365.2,239.7 401.7,240.5" stroke="#2a90d0"/>
<polyline points="292.2,239 328.7,237 365.2,235.5 401.7,239" stroke="#2a90d0" stroke-dasharray="3,2.9"/>
<polyline points="292.2,246.5 328.7,246.5 365.2,246.7 401.7,246" stroke="#2a64c0"/>
<polyline points="292.2,244 328.7,243 365.2,241 401.7,241" stroke="#2a64c0" stroke-dasharray="3,2.9"/>
<polyline points="292.2,250.2 328.7,250.9 365.2,248.8 401.7,249.5" stroke="#2840a8"/>
<polyline points="292.2,247.4 328.7,246 365.2,243.9 401.7,243.2" stroke="#2840a8" stroke-dasharray="3,2.9"/>
<polyline points="292.2,251.6 328.7,251.5 365.2,249.5 401.7,250" stroke="#1c2a80"/>
<polyline points="292.2,249.5 328.7,249 365.2,248 401.7,248.5" stroke="#1c2a80" stroke-dasharray="3,2.9"/>
<polyline points="292.2,256.9 328.7,256.5 365.2,255.5 401.7,255.8" stroke="#000000"/>
<polyline points="292.2,257.2 328.7,256.8 365.2,255.2 401.7,256" stroke="#000000" stroke-dasharray="3,2.9"/>
</g>
<rect x="292.2" y="211.7" width="109.5" height="84.4" fill="none" stroke="#c4c4c4" stroke-width="1"/>
<path d="M292.2 296.1h1.8M401.7 296.1h-1.8M292.2 282.03h1.8M401.7 282.03h-1.8M292.2 267.97h1.8M401.7 267.97h-1.8M292.2 253.9h1.8M401.7 253.9h-1.8M292.2 239.83h1.8M401.7 239.83h-1.8M292.2 225.77h1.8M401.7 225.77h-1.8M292.2 211.7h1.8M401.7 211.7h-1.8M292.2 292.58h1M401.7 292.58h-1M292.2 289.07h1M401.7 289.07h-1M292.2 285.55h1M401.7 285.55h-1M292.2 278.52h1M401.7 278.52h-1M292.2 275h1M401.7 275h-1M292.2 271.48h1M401.7 271.48h-1M292.2 264.45h1M401.7 264.45h-1M292.2 260.93h1M401.7 260.93h-1M292.2 257.42h1M401.7 257.42h-1M292.2 250.38h1M401.7 250.38h-1M292.2 246.87h1M401.7 246.87h-1M292.2 243.35h1M401.7 243.35h-1M292.2 236.32h1M401.7 236.32h-1M292.2 232.8h1M401.7 232.8h-1M292.2 229.28h1M401.7 229.28h-1M292.2 222.25h1M401.7 222.25h-1M292.2 218.73h1M401.7 218.73h-1M292.2 215.22h1M401.7 215.22h-1" stroke="#999" stroke-width="0.8" fill="none"/>
<g font-family='"Liberation Sans", sans-serif' font-size="5.3" fill="#222" stroke="#222" stroke-width="0.18">
<text x="290.9" y="296.5" text-anchor="end">0.08</text>
<text x="290.9" y="283.93" text-anchor="end">0.10</text>
<text x="290.9" y="269.87" text-anchor="end">0.12</text>
<text x="290.9" y="255.8" text-anchor="end">0.14</text>
<text x="290.9" y="241.73" text-anchor="end">0.16</text>
<text x="290.9" y="227.67" text-anchor="end">0.18</text>
<text x="290.9" y="214.6" text-anchor="end">0.20</text>
<text x="292.2" y="303" text-anchor="middle">440</text>
<text x="328.7" y="303" text-anchor="middle">500</text>
<text x="365.2" y="303" text-anchor="middle">675</text>
<text x="401.7" y="303" text-anchor="middle">870</text>
</g>
<text x="281.7" y="206.5" font-family='"Liberation Sans", sans-serif' font-size="10" fill="#111" stroke="#111" stroke-width="0.2" text-anchor="middle">(k)</text>
<text x="346.95" y="308.4" font-family='"Liberation Sans", sans-serif' font-size="5" fill="#222" stroke="#222" stroke-width="0.22" text-anchor="middle">Wavelength</text>
<g fill="none" stroke-width="0.62" stroke-linejoin="round">
<polyline points="430.45,248.6 467.03,247.5 503.62,245.2 540.2,246.3" stroke="#dadada"/>
<polyline points="430.45,246.9 467.03,244.6 503.62,248 540.2,248.5" stroke="#dadada" stroke-dasharray="3,2.9"/>
<polyline points="430.45,250.5 467.03,250 503.62,248 540.2,249.2" stroke="#c0ecb8"/>
<polyline points="430.45,250.3 467.03,247 503.62,250 540.2,250" stroke="#c0ecb8" stroke-dasharray="3,2.9"/>
<polyline points="430.45,253.8 467.03,256 503.62,251.5 540.2,252.6" stroke="#50d0d0"/>
<polyline points="430.45,251 467.03,249 503.62,256 540.2,255" stroke="#50d0d0" stroke-dasharray="3,2.9"/>
<polyline points="430.45,255.5 467.03,257.2 503.62,253.8 540.2,254" stroke="#20b8cc"/>
<polyline points="430.45,252 467.03,250.9 503.62,260.1 540.2,257.8" stroke="#20b8cc" stroke-dasharray="3,2.9"/>
<polyline points="430.45,256 467.03,258 503.62,254.5 540.2,255" stroke="#2a90d0"/>
<polyline points="430.45,254 467.03,252 503.62,261 540.2,259" stroke="#2a90d0" stroke-dasharray="3,2.9"/>
<polyline points="430.45,264.7 467.03,265.8 503.62,263.5 540.2,264.3" stroke="#2a64c0"/>
<polyline points="430.45,264.7 467.03,262.9 503.62,266.5 540.2,266" stroke="#2a64c0" stroke-dasharray="3,2.9"/>
<polyline points="430.45,265.5 467.03,266 503.62,264.5 540.2,265" stroke="#2840a8"/>
<polyline points="430.45,265 467.03,263.5 503.62,267 540.2,266.4" stroke="#2840a8" stroke-dasharray="3,2.9"/>
<polyline points="430.45,270 467.03,269.5 503.62,269.5 540.2,270" stroke="#1c2a80"/>
<polyline points="430.45,270.5 467.03,270 503.62,271 540.2,270.8" stroke="#1c2a80" stroke-dasharray="3,2.9"/>
<polyline points="430.45,270.4 467.03,269.6 503.62,269.8 540.2,270.4" stroke="#000000"/>
<polyline points="430.45,270.8 467.03,270.5 503.62,271 540.2,271" stroke="#000000" stroke-dasharray="3,2.9"/>
</g>
<rect x="430.45" y="211.7" width="109.75" height="84.4" fill="none" stroke="#c4c4c4" stroke-width="1"/>
<path d="M430.45 296.1h1.8M540.2 296.1h-1.8M430.45 282.03h1.8M540.2 282.03h-1.8M430.45 267.97h1.8M540.2 267.97h-1.8M430.45 253.9h1.8M540.2 253.9h-1.8M430.45 239.83h1.8M540.2 239.83h-1.8M430.45 225.77h1.8M540.2 225.77h-1.8M430.45 211.7h1.8M540.2 211.7h-1.8M430.45 292.58h1M540.2 292.58h-1M430.45 289.07h1M540.2 289.07h-1M430.45 285.55h1M540.2 285.55h-1M430.45 278.52h1M540.2 278.52h-1M430.45 275h1M540.2 275h-1M430.45 271.48h1M540.2 271.48h-1M430.45 264.45h1M540.2 264.45h-1M430.45 260.93h1M540.2 260.93h-1M430.45 257.42h1M540.2 257.42h-1M430.45 250.38h1M540.2 250.38h-1M430.45 246.87h1M540.2 246.87h-1M430.45 243.35h1M540.2 243.35h-1M430.45 236.32h1M540.2 236.32h-1M430.45 232.8h1M540.2 232.8h-1M430.45 229.28h1M540.2 229.28h-1M430.45 222.25h1M540.2 222.25h-1M430.45 218.73h1M540.2 218.73h-1M430.45 215.22h1M540.2 215.22h-1" stroke="#999" stroke-width="0.8" fill="none"/>
<g font-family='"Liberation Sans", sans-serif' font-size="5.3" fill="#222" stroke="#222" stroke-width="0.18">
<text x="429.15" y="296.5" text-anchor="end">0.08</text>
<text x="429.15" y="283.93" text-anchor="end">0.10</text>
<text x="429.15" y="269.87" text-anchor="end">0.12</text>
<text x="429.15" y="255.8" text-anchor="end">0.14</text>
<text x="429.15" y="241.73" text-anchor="end">0.16</text>
<text x="429.15" y="227.67" text-anchor="end">0.18</text>
<text x="429.15" y="214.6" text-anchor="end">0.20</text>
<text x="430.45" y="303" text-anchor="middle">440</text>
<text x="467.03" y="303" text-anchor="middle">500</text>
<text x="503.62" y="303" text-anchor="middle">675</text>
<text x="540.2" y="303" text-anchor="middle">870</text>
</g>
<text x="421.1" y="206.5" font-family='"Liberation Sans", sans-serif' font-size="10" fill="#111" stroke="#111" stroke-width="0.2" text-anchor="middle">(l)</text>
<text transform="translate(415.25,253.4) rotate(-90)" font-family='"Liberation Sans", sans-serif' font-size="5" fill="#222" stroke="#222" stroke-width="0.22" text-anchor="middle">RMSE</text>
<text x="485.33" y="308.4" font-family='"Liberation Sans", sans-serif' font-size="5" fill="#222" stroke="#222" stroke-width="0.22" text-anchor="middle">Wavelength</text>
<g font-family='"Liberation Sans", sans-serif' font-size="4" fill="#222" stroke="#222" stroke-width="0.2">
<text x="512.6" y="54.3" text-anchor="end">AE440-675</text>
<line x1="515.4" y1="53.5" x2="530.6" y2="53.5" stroke="#888888" stroke-width="1.0"/>
<text x="512.6" y="58.3" text-anchor="end">AE440-870</text>
<line x1="515.4" y1="57.5" x2="530.6" y2="57.5" stroke="#888888" stroke-width="1.0" stroke-dasharray="2.2,2.2"/>
<text x="512.6" y="63.1" text-anchor="end">00km</text>
<line x1="515.4" y1="62.3" x2="530.6" y2="62.3" stroke="#000000" stroke-width="0.6"/>
<text x="512.6" y="67.1" text-anchor="end">05km</text>
<line x1="515.4" y1="66.3" x2="530.6" y2="66.3" stroke="#1c2a80" stroke-width="0.6"/>
<text x="512.6" y="71.2" text-anchor="end">10km</text>
<line x1="515.4" y1="70.4" x2="530.6" y2="70.4" stroke="#2840a8" stroke-width="0.6"/>
<text x="512.6" y="75.2" text-anchor="end">15km</text>
<line x1="515.4" y1="74.4" x2="530.6" y2="74.4" stroke="#2a64c0" stroke-width="0.6"/>
<text x="512.6" y="79.2" text-anchor="end">20km</text>
<line x1="515.4" y1="78.4" x2="530.6" y2="78.4" stroke="#2a90d0" stroke-width="0.6"/>
<text x="512.6" y="83.5" text-anchor="end">25km</text>
<line x1="515.4" y1="82.7" x2="530.6" y2="82.7" stroke="#20b8cc" stroke-width="0.6"/>
<text x="512.6" y="87.5" text-anchor="end">30km</text>
<line x1="515.4" y1="86.7" x2="530.6" y2="86.7" stroke="#50d0d0" stroke-width="0.6"/>
<text x="512.6" y="91.8" text-anchor="end">35km</text>
<line x1="515.4" y1="91" x2="530.6" y2="91" stroke="#c0ecb8" stroke-width="0.6"/>
<text x="512.6" y="95.8" text-anchor="end">40km</text>
<line x1="515.4" y1="95" x2="530.6" y2="95" stroke="#dadada" stroke-width="0.6"/>
</g>
</svg>
</body></html>
